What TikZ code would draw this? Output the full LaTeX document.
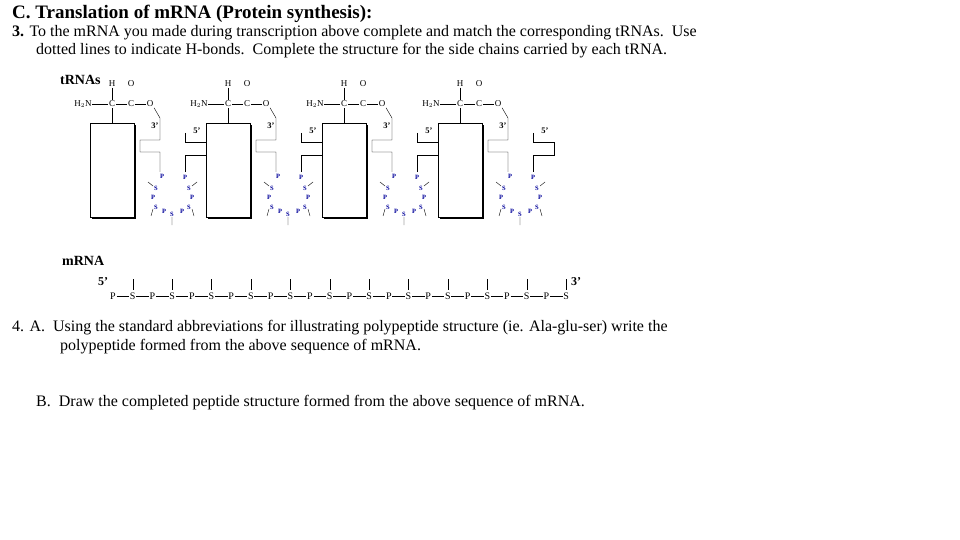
\documentclass[tikz,border=0pt]{standalone}
\usepackage{fontspec}
\setmainfont{Liberation Serif}
\begin{document}
\begin{tikzpicture}[x=1pt,y=-1pt,
  body/.style={font=\fontsize{16}{18}\selectfont,anchor=west,inner sep=0},
  aa/.style={font=\fontsize{9}{9}\selectfont,inner sep=0.6pt},
  nt/.style={font=\fontsize{6.5}{6.5}\selectfont\bfseries,text=blue!60!black,inner sep=0.3pt},
  mt/.style={font=\fontsize{10}{10}\selectfont,inner sep=0.6pt},
  pr/.style={font=\fontsize{8.5}{8.5}\selectfont\bfseries,inner sep=0}]
\useasboundingbox (0,0) rectangle (960,540);
\node[body,font=\fontsize{19}{21}\selectfont\bfseries] (title) at (12,14) {C.\ Translation of mRNA (Protein synthesis):};
\node[body] (q3a) at (12,33) {\textbf{3.} To the mRNA you made during transcription above complete and match the corresponding tRNAs.\ \ Use};
\node[body] (q3b) at (36,51) {dotted lines to indicate H-bonds.\ \ Complete the structure for the side chains carried by each tRNA.};
\node[body,font=\fontsize{14}{16}\selectfont\bfseries] (trl) at (60,80) {tRNAs};
\foreach \i in {0,1,2,3}{
 \begin{scope}[xshift=\i*116]
  \node[aa] (n\i) at (83,104) {H$_2$N};
  \node[aa] (ca\i) at (112,104) {C};
  \node[aa] (c\i) at (131,104) {C};
  \node[aa] (o\i) at (150,104) {O};
  \node[aa] (h\i) at (112,84) {H};
  \node[aa] (od\i) at (131,84) {O};
  \draw (n\i)--(ca\i)--(c\i)--(o\i);
  \draw (h\i)--(ca\i);
  \draw[double,double distance=1.2pt] (od\i)--(c\i);
  \fill[black] (92,125) rectangle (136,219);
  \draw[fill=white] (90,123) rectangle (134,217);
  \draw (ca\i)--(112,123);
  \draw (o\i.south east)--(160,118)--(160,140)--(140,140)--(140,152)--(160,152)--(160,172);
  \node[pr] at (155,126) {3'};
  \node[pr] at (197,131) {5'};
  \draw (185,133)--(185,142)--(206,142)--(206,155)--(185,155)--(185,172);
  \foreach \t/\x/\y in {P/162/176,S/156/188,P/153/197,S/156/207,P/164/211,S/172/214,P/182/211,S/189/207,P/192/197,S/189/188,P/185/177}
    \node[nt] at (\x,\y) {\t};
  \draw[line width=0.4pt] (153,186)--(148,182) (153,209)--(151,216) (172,217)--(172,225) (192,209)--(194,216) (192,186)--(197,182);
 \end{scope}}
\node[body,font=\fontsize{14}{16}\selectfont\bfseries] (ml) at (62,261) {mRNA};
\node[pr,font=\fontsize{12}{12}\selectfont\bfseries] (m5) at (103,282) {5'};
\node[pr,font=\fontsize{12}{12}\selectfont\bfseries] (m3) at (576,282) {3'};
\foreach \k in {0,...,11}{
  \node[mt] (p\k) at (113+\k*39.4,296) {P};
  \node[mt] (s\k) at (132.7+\k*39.4,296) {S};
  \draw (p\k)--(s\k);
  \draw (132.7+\k*39.4,279)--(132.7+\k*39.4,290);
}
\foreach \k [evaluate=\k as \n using int(\k+1)] in {0,...,10}{\draw (s\k)--(p\n);}
\node[body] (q4a) at (12,328) {4. A.\ \ Using the standard abbreviations for illustrating polypeptide structure (ie. Ala-glu-ser) write the};
\node[body] (q4b) at (60,347) {polypeptide formed from the above sequence of mRNA.};
\node[body] (q4c) at (36,403) {B.\ \ Draw the completed peptide structure formed from the above sequence of mRNA.};
\end{tikzpicture}
\end{document}
